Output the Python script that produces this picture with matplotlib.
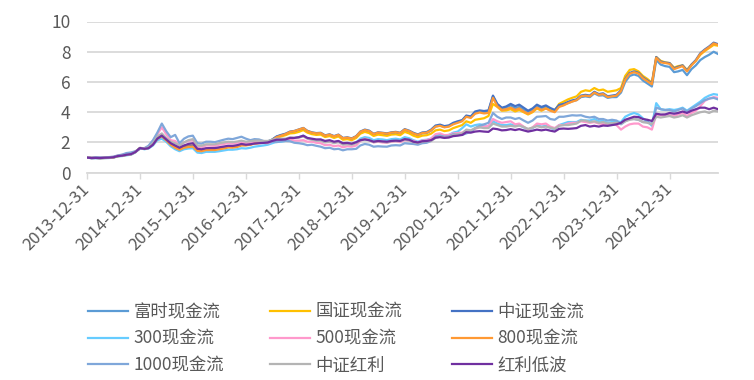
import matplotlib
matplotlib.use("Agg")
import matplotlib.pyplot as plt
import pandas as pd

plt.rcParams['font.family'] = ['Noto Sans CJK SC', 'DejaVu Sans']

# ---- data (monthly) ----
dates = pd.date_range('2013-12-31', periods=144, freq='ME')

tick_labels = ['2013-12-31', '2014-12-31', '2015-12-31', '2016-12-31', '2017-12-31',
               '2018-12-31', '2019-12-31', '2020-12-31', '2021-12-31', '2022-12-31',
               '2023-12-31', '2024-12-31']

names = ['富时现金流', '国证现金流', '中证现金流', '300现金流', '500现金流',
         '800现金流', '1000现金流', '中证红利', '红利低波']
colors = ['#5B9BD5', '#FFC000', '#4472C4', '#66CCFF', '#FF99CC',
          '#FF9933', '#7FA7DA', '#B4B4B4', '#7030A0']

fs = [1.0,
      0.97, 0.98, 0.97, 0.98, 0.99, 1.01, 1.10, 1.13, 1.20, 1.24, 1.38, 1.62,
      1.59, 1.66, 1.92, 2.30, 2.50, 2.20, 1.88, 1.70, 1.55, 1.70, 1.76, 1.80,
      1.50, 1.47, 1.56, 1.56, 1.56, 1.61, 1.66, 1.73, 1.72, 1.76, 1.86, 1.86,
      1.90, 1.97, 2.00, 2.02, 2.06, 2.18, 2.38, 2.47, 2.55, 2.68, 2.72, 2.80,
      2.90, 2.72, 2.62, 2.58, 2.60, 2.43, 2.50, 2.38, 2.48, 2.26, 2.30, 2.24,
      2.38, 2.66, 2.78, 2.72, 2.52, 2.62, 2.58, 2.54, 2.62, 2.64, 2.58, 2.80,
      2.72, 2.58, 2.48, 2.60, 2.62, 2.78, 3.05, 3.12, 3.02, 3.08, 3.25, 3.35,
      3.45, 3.75, 3.68, 3.95, 4.05, 4.00, 4.05, 5.05, 4.50, 4.25, 4.30, 4.45,
      4.25, 4.35, 4.15, 4.00, 4.15, 4.40, 4.25, 4.35, 4.20, 4.10, 4.40, 4.50,
      4.60, 4.72, 4.80, 5.00, 5.05, 5.00, 5.25, 5.10, 5.12, 4.95, 5.00, 5.00,
      5.30, 6.00, 6.40, 6.50, 6.40, 6.10, 5.90, 5.70, 7.45, 7.15, 7.05, 7.00,
      6.65, 6.70, 6.80, 6.45, 6.85, 7.10, 7.45, 7.65, 7.80, 8.00, 7.85]

gz = [1.0,
      0.98, 0.99, 0.98, 0.99, 1.00, 1.02, 1.11, 1.15, 1.22, 1.26, 1.39, 1.60,
      1.57, 1.64, 1.90, 2.30, 2.52, 2.20, 1.88, 1.70, 1.55, 1.70, 1.77, 1.80,
      1.50, 1.47, 1.57, 1.56, 1.55, 1.60, 1.65, 1.72, 1.71, 1.75, 1.84, 1.83,
      1.87, 1.94, 1.97, 1.98, 2.01, 2.12, 2.30, 2.40, 2.48, 2.60, 2.62, 2.70,
      2.82, 2.65, 2.55, 2.50, 2.52, 2.36, 2.42, 2.30, 2.40, 2.18, 2.22, 2.15,
      2.30, 2.58, 2.70, 2.62, 2.43, 2.52, 2.48, 2.44, 2.52, 2.54, 2.48, 2.70,
      2.60, 2.45, 2.35, 2.45, 2.48, 2.58, 2.80, 2.85, 2.75, 2.80, 2.95, 3.05,
      3.15, 3.40, 3.30, 3.50, 3.55, 3.60, 3.75, 4.55, 4.35, 4.10, 4.12, 4.20,
      4.05, 4.15, 4.00, 3.85, 4.00, 4.25, 4.10, 4.25, 4.15, 4.10, 4.55, 4.70,
      4.85, 4.95, 5.05, 5.35, 5.45, 5.40, 5.60, 5.45, 5.50, 5.35, 5.40, 5.45,
      5.60, 6.40, 6.80, 6.85, 6.70, 6.40, 6.20, 5.95, 7.65, 7.40, 7.30, 7.25,
      6.95, 7.05, 7.10, 6.80, 7.15, 7.40, 7.80, 8.05, 8.25, 8.45, 8.40]

zz = [1.0,
      0.97, 0.98, 0.97, 0.98, 0.99, 1.01, 1.10, 1.13, 1.20, 1.24, 1.38, 1.62,
      1.58, 1.65, 1.90, 2.28, 2.45, 2.18, 1.86, 1.68, 1.54, 1.68, 1.73, 1.77,
      1.48, 1.45, 1.54, 1.54, 1.54, 1.59, 1.64, 1.71, 1.70, 1.74, 1.84, 1.84,
      1.89, 1.96, 2.00, 2.02, 2.06, 2.19, 2.40, 2.50, 2.58, 2.72, 2.76, 2.86,
      2.96, 2.77, 2.67, 2.62, 2.64, 2.47, 2.54, 2.42, 2.52, 2.30, 2.34, 2.27,
      2.42, 2.72, 2.85, 2.78, 2.57, 2.67, 2.64, 2.60, 2.67, 2.70, 2.64, 2.88,
      2.78, 2.64, 2.53, 2.66, 2.69, 2.85, 3.12, 3.18, 3.08, 3.13, 3.30, 3.40,
      3.48, 3.78, 3.72, 4.05, 4.12, 4.08, 4.12, 5.10, 4.55, 4.30, 4.38, 4.55,
      4.40, 4.50, 4.30, 4.10, 4.25, 4.50, 4.35, 4.45, 4.28, 4.15, 4.48, 4.55,
      4.68, 4.78, 4.85, 5.10, 5.15, 5.10, 5.35, 5.20, 5.25, 5.05, 5.10, 5.15,
      5.45, 6.20, 6.60, 6.70, 6.60, 6.30, 6.10, 5.90, 7.65, 7.35, 7.28, 7.25,
      6.90, 7.00, 7.10, 6.75, 7.15, 7.45, 7.90, 8.15, 8.35, 8.60, 8.50]

c300 = [1.0,
        0.96, 0.96, 0.95, 0.96, 0.97, 0.99, 1.08, 1.10, 1.15, 1.19, 1.34, 1.62,
        1.55, 1.60, 1.80, 2.15, 2.25, 2.05, 1.75, 1.55, 1.42, 1.55, 1.60, 1.62,
        1.33, 1.30, 1.38, 1.38, 1.38, 1.42, 1.47, 1.52, 1.52, 1.55, 1.62, 1.60,
        1.65, 1.72, 1.76, 1.80, 1.85, 1.95, 2.05, 2.05, 2.10, 2.25, 2.30, 2.35,
        2.45, 2.28, 2.20, 2.15, 2.18, 2.05, 2.10, 2.00, 2.08, 1.92, 1.95, 1.90,
        2.00, 2.25, 2.35, 2.30, 2.15, 2.22, 2.20, 2.15, 2.22, 2.25, 2.20, 2.35,
        2.28, 2.15, 2.05, 2.15, 2.18, 2.25, 2.48, 2.52, 2.45, 2.50, 2.65, 2.72,
        2.95, 3.20, 3.05, 3.15, 3.20, 3.15, 3.05, 3.40, 3.25, 3.15, 3.15, 3.20,
        3.10, 3.15, 3.00, 2.85, 2.95, 3.15, 3.05, 3.10, 2.98, 2.85, 3.15, 3.25,
        3.35, 3.35, 3.35, 3.50, 3.45, 3.45, 3.55, 3.40, 3.42, 3.30, 3.35, 3.40,
        3.35, 3.70, 3.85, 3.95, 3.85, 3.60, 3.40, 3.10, 4.60, 4.20, 4.15, 4.20,
        4.15, 4.20, 4.30, 4.10, 4.30, 4.50, 4.70, 4.95, 5.10, 5.20, 5.15]

c500 = [1.0,
        0.99, 1.01, 1.00, 0.99, 1.02, 1.05, 1.13, 1.18, 1.27, 1.31, 1.40, 1.60,
        1.62, 1.74, 2.10, 2.55, 3.00, 2.55, 2.15, 2.10, 1.80, 2.00, 2.10, 2.15,
        1.70, 1.68, 1.80, 1.80, 1.78, 1.85, 1.90, 1.96, 1.93, 1.98, 2.05, 1.95,
        1.98, 2.03, 2.02, 1.98, 1.95, 2.05, 2.08, 2.12, 2.15, 2.20, 2.12, 2.12,
        2.15, 2.05, 2.05, 1.98, 1.95, 1.82, 1.85, 1.75, 1.80, 1.68, 1.75, 1.72,
        1.80, 2.10, 2.25, 2.15, 2.00, 2.05, 2.00, 1.98, 2.05, 2.08, 2.02, 2.15,
        2.12, 2.10, 2.00, 2.12, 2.15, 2.25, 2.55, 2.60, 2.48, 2.50, 2.60, 2.62,
        2.65, 2.80, 2.75, 2.90, 3.00, 3.05, 3.10, 3.55, 3.40, 3.30, 3.35, 3.40,
        3.20, 3.25, 3.05, 2.85, 3.00, 3.25, 3.20, 3.25, 3.05, 2.95, 3.15, 3.15,
        3.25, 3.30, 3.30, 3.40, 3.35, 3.30, 3.35, 3.25, 3.22, 3.15, 3.20, 3.15,
        2.85, 3.05, 3.20, 3.25, 3.25, 3.05, 3.00, 2.85, 3.85, 3.80, 3.85, 3.80,
        3.75, 3.85, 3.95, 3.75, 3.95, 4.10, 4.40, 4.75, 4.90, 5.00, 4.95]

c800 = [1.0,
        0.97, 0.98, 0.96, 0.97, 0.98, 1.00, 1.09, 1.12, 1.18, 1.22, 1.37, 1.63,
        1.58, 1.64, 1.88, 2.25, 2.40, 2.15, 1.85, 1.65, 1.52, 1.65, 1.70, 1.73,
        1.45, 1.42, 1.50, 1.50, 1.50, 1.55, 1.60, 1.67, 1.66, 1.70, 1.80, 1.80,
        1.85, 1.92, 1.96, 1.98, 2.02, 2.15, 2.35, 2.45, 2.55, 2.70, 2.75, 2.85,
        2.95, 2.75, 2.65, 2.60, 2.62, 2.45, 2.52, 2.40, 2.50, 2.28, 2.32, 2.25,
        2.40, 2.70, 2.82, 2.75, 2.55, 2.65, 2.62, 2.58, 2.65, 2.68, 2.62, 2.85,
        2.75, 2.60, 2.50, 2.62, 2.65, 2.80, 3.05, 3.10, 3.00, 3.05, 3.20, 3.30,
        3.40, 3.70, 3.62, 3.90, 3.98, 3.92, 3.95, 4.95, 4.40, 4.15, 4.20, 4.30,
        4.15, 4.25, 4.05, 3.90, 4.05, 4.30, 4.15, 4.25, 4.10, 4.00, 4.35, 4.45,
        4.60, 4.70, 4.80, 5.05, 5.10, 5.05, 5.30, 5.15, 5.20, 5.00, 5.05, 5.10,
        5.40, 6.15, 6.55, 6.65, 6.55, 6.25, 6.05, 5.85, 7.60, 7.30, 7.25, 7.20,
        6.85, 6.95, 7.05, 6.70, 7.10, 7.40, 7.85, 8.10, 8.30, 8.55, 8.45]

c1000 = [1.0,
         0.99, 1.02, 1.01, 1.00, 1.03, 1.06, 1.14, 1.20, 1.30, 1.34, 1.42, 1.58,
         1.62, 1.78, 2.15, 2.65, 3.25, 2.75, 2.35, 2.50, 1.95, 2.25, 2.40, 2.45,
         1.95, 1.92, 2.05, 2.05, 2.02, 2.10, 2.18, 2.25, 2.22, 2.30, 2.38, 2.25,
         2.15, 2.22, 2.20, 2.10, 2.00, 2.05, 2.02, 2.08, 2.10, 2.08, 1.98, 1.95,
         1.90, 1.82, 1.85, 1.78, 1.72, 1.62, 1.65, 1.55, 1.58, 1.48, 1.55, 1.55,
         1.58, 1.80, 1.90, 1.85, 1.72, 1.75, 1.73, 1.72, 1.80, 1.82, 1.80, 1.95,
         1.92, 1.90, 1.85, 1.95, 1.98, 2.10, 2.40, 2.45, 2.38, 2.40, 2.55, 2.50,
         2.50, 2.60, 2.70, 2.95, 3.10, 3.20, 3.30, 3.95, 3.70, 3.55, 3.65, 3.65,
         3.55, 3.62, 3.45, 3.30, 3.45, 3.70, 3.72, 3.75, 3.55, 3.50, 3.70, 3.70,
         3.75, 3.80, 3.78, 3.80, 3.70, 3.65, 3.70, 3.55, 3.55, 3.45, 3.50, 3.45,
         3.20, 3.40, 3.55, 3.55, 3.50, 3.35, 3.35, 3.20, 4.30, 4.20, 4.15, 4.15,
         4.05, 4.15, 4.25, 4.05, 4.25, 4.40, 4.60, 4.80, 4.90, 4.95, 4.85]

hl = [1.0,
      0.96, 0.97, 0.96, 0.98, 0.99, 1.01, 1.10, 1.12, 1.17, 1.21, 1.38, 1.65,
      1.60, 1.66, 1.95, 2.40, 2.60, 2.30, 2.05, 1.95, 1.80, 2.00, 2.15, 2.22,
      1.80, 1.78, 1.88, 1.88, 1.88, 1.95, 2.00, 2.05, 2.02, 2.06, 2.12, 2.05,
      2.08, 2.12, 2.12, 2.10, 2.10, 2.18, 2.25, 2.25, 2.25, 2.33, 2.30, 2.32,
      2.40, 2.25, 2.18, 2.12, 2.12, 2.00, 2.05, 1.95, 2.02, 1.85, 1.88, 1.85,
      1.95, 2.15, 2.20, 2.15, 2.02, 2.08, 2.05, 2.00, 2.08, 2.10, 2.08, 2.20,
      2.12, 2.02, 1.95, 2.05, 2.08, 2.10, 2.30, 2.38, 2.32, 2.35, 2.50, 2.55,
      2.60, 2.85, 2.80, 2.95, 3.00, 2.95, 2.95, 3.25, 3.15, 3.05, 3.05, 3.10,
      3.05, 3.12, 3.02, 2.90, 2.98, 3.08, 3.00, 3.05, 2.98, 2.90, 3.10, 3.15,
      3.15, 3.20, 3.25, 3.45, 3.45, 3.35, 3.40, 3.30, 3.35, 3.25, 3.28, 3.30,
      3.25, 3.40, 3.50, 3.55, 3.50, 3.35, 3.30, 3.20, 3.70, 3.65, 3.70, 3.75,
      3.65, 3.70, 3.80, 3.65, 3.80, 3.90, 4.00, 4.05, 3.95, 4.10, 4.05]

db = [1.0,
      0.97, 0.98, 0.97, 0.99, 1.00, 1.02, 1.10, 1.13, 1.19, 1.23, 1.37, 1.63,
      1.58, 1.62, 1.85, 2.25, 2.45, 2.20, 1.95, 1.80, 1.65, 1.80, 1.90, 1.95,
      1.58, 1.55, 1.62, 1.63, 1.63, 1.68, 1.73, 1.78, 1.77, 1.82, 1.90, 1.85,
      1.88, 1.93, 1.95, 1.97, 2.00, 2.10, 2.18, 2.18, 2.20, 2.30, 2.30, 2.35,
      2.45, 2.30, 2.25, 2.20, 2.20, 2.10, 2.15, 2.05, 2.10, 1.95, 1.97, 1.92,
      2.02, 2.15, 2.20, 2.15, 2.05, 2.10, 2.07, 2.05, 2.10, 2.12, 2.10, 2.22,
      2.18, 2.05, 2.00, 2.08, 2.10, 2.15, 2.32, 2.35, 2.30, 2.33, 2.42, 2.45,
      2.50, 2.68, 2.65, 2.72, 2.75, 2.72, 2.70, 2.92, 2.88, 2.80, 2.82, 2.88,
      2.82, 2.88, 2.80, 2.72, 2.78, 2.85, 2.80, 2.85, 2.78, 2.72, 2.90, 2.92,
      2.90, 2.92, 2.95, 3.10, 3.15, 3.05, 3.10, 3.05, 3.12, 3.10, 3.15, 3.20,
      3.30, 3.50, 3.60, 3.70, 3.68, 3.55, 3.50, 3.42, 3.90, 3.85, 3.85, 3.95,
      3.90, 3.95, 4.05, 3.95, 4.10, 4.20, 4.30, 4.30, 4.20, 4.30, 4.20]

series = [fs, gz, zz, c300, c500, c800, c1000, hl, db]

# ---- figure ----
fig = plt.figure(figsize=(7.54, 3.80), dpi=100)
ax = fig.add_axes([87 / 754, 1 - 172.7 / 380, (718 - 87) / 754, (172.7 - 21.5) / 380])

handles = []
for vals, name, col in zip(series, names, colors):
    ln, = ax.plot(dates, vals, color=col, lw=1.6, label=name, solid_joinstyle='round')
    handles.append(ln)

ax.set_ylim(0, 10)
ax.set_yticks([0, 2, 4, 6, 8, 10])
ax.set_xlim(dates[0], dates[-1])
ax.set_xticks(pd.to_datetime(tick_labels))
ax.set_xticklabels(tick_labels, rotation=45, ha='right', va='center',
                   rotation_mode='anchor', fontsize=12, color='#595959')
ax.tick_params(axis='x', length=4, width=1.0, color='#d9d9d9', pad=6)
ax.tick_params(axis='y', length=0, pad=12, labelsize=12.5, labelcolor='#595959')

ax.grid(axis='y', color='#d9d9d9', lw=1.3)
ax.set_axisbelow(True)
for s in ['top', 'right', 'left']:
    ax.spines[s].set_visible(False)
ax.spines['bottom'].set_color('#d9d9d9')
ax.spines['bottom'].set_linewidth(1.3)

# legend: 3 rows x 3 columns, filled row by row
col_x = [88, 270, 452]
for c in range(3):
    idx = [c, c + 3, c + 6]
    leg = fig.legend([handles[i] for i in idx], [names[i] for i in idx],
                     loc='upper left', bbox_to_anchor=(col_x[c] / 754, 1 - 303 / 380),
                     ncol=1, frameon=False, fontsize=12.5, handlelength=2.3,
                     handletextpad=0.3, labelspacing=0.5, borderaxespad=0, borderpad=0)
    for t in leg.get_texts():
        t.set_color('#595959')

fig.savefig('out.png', dpi=100)
